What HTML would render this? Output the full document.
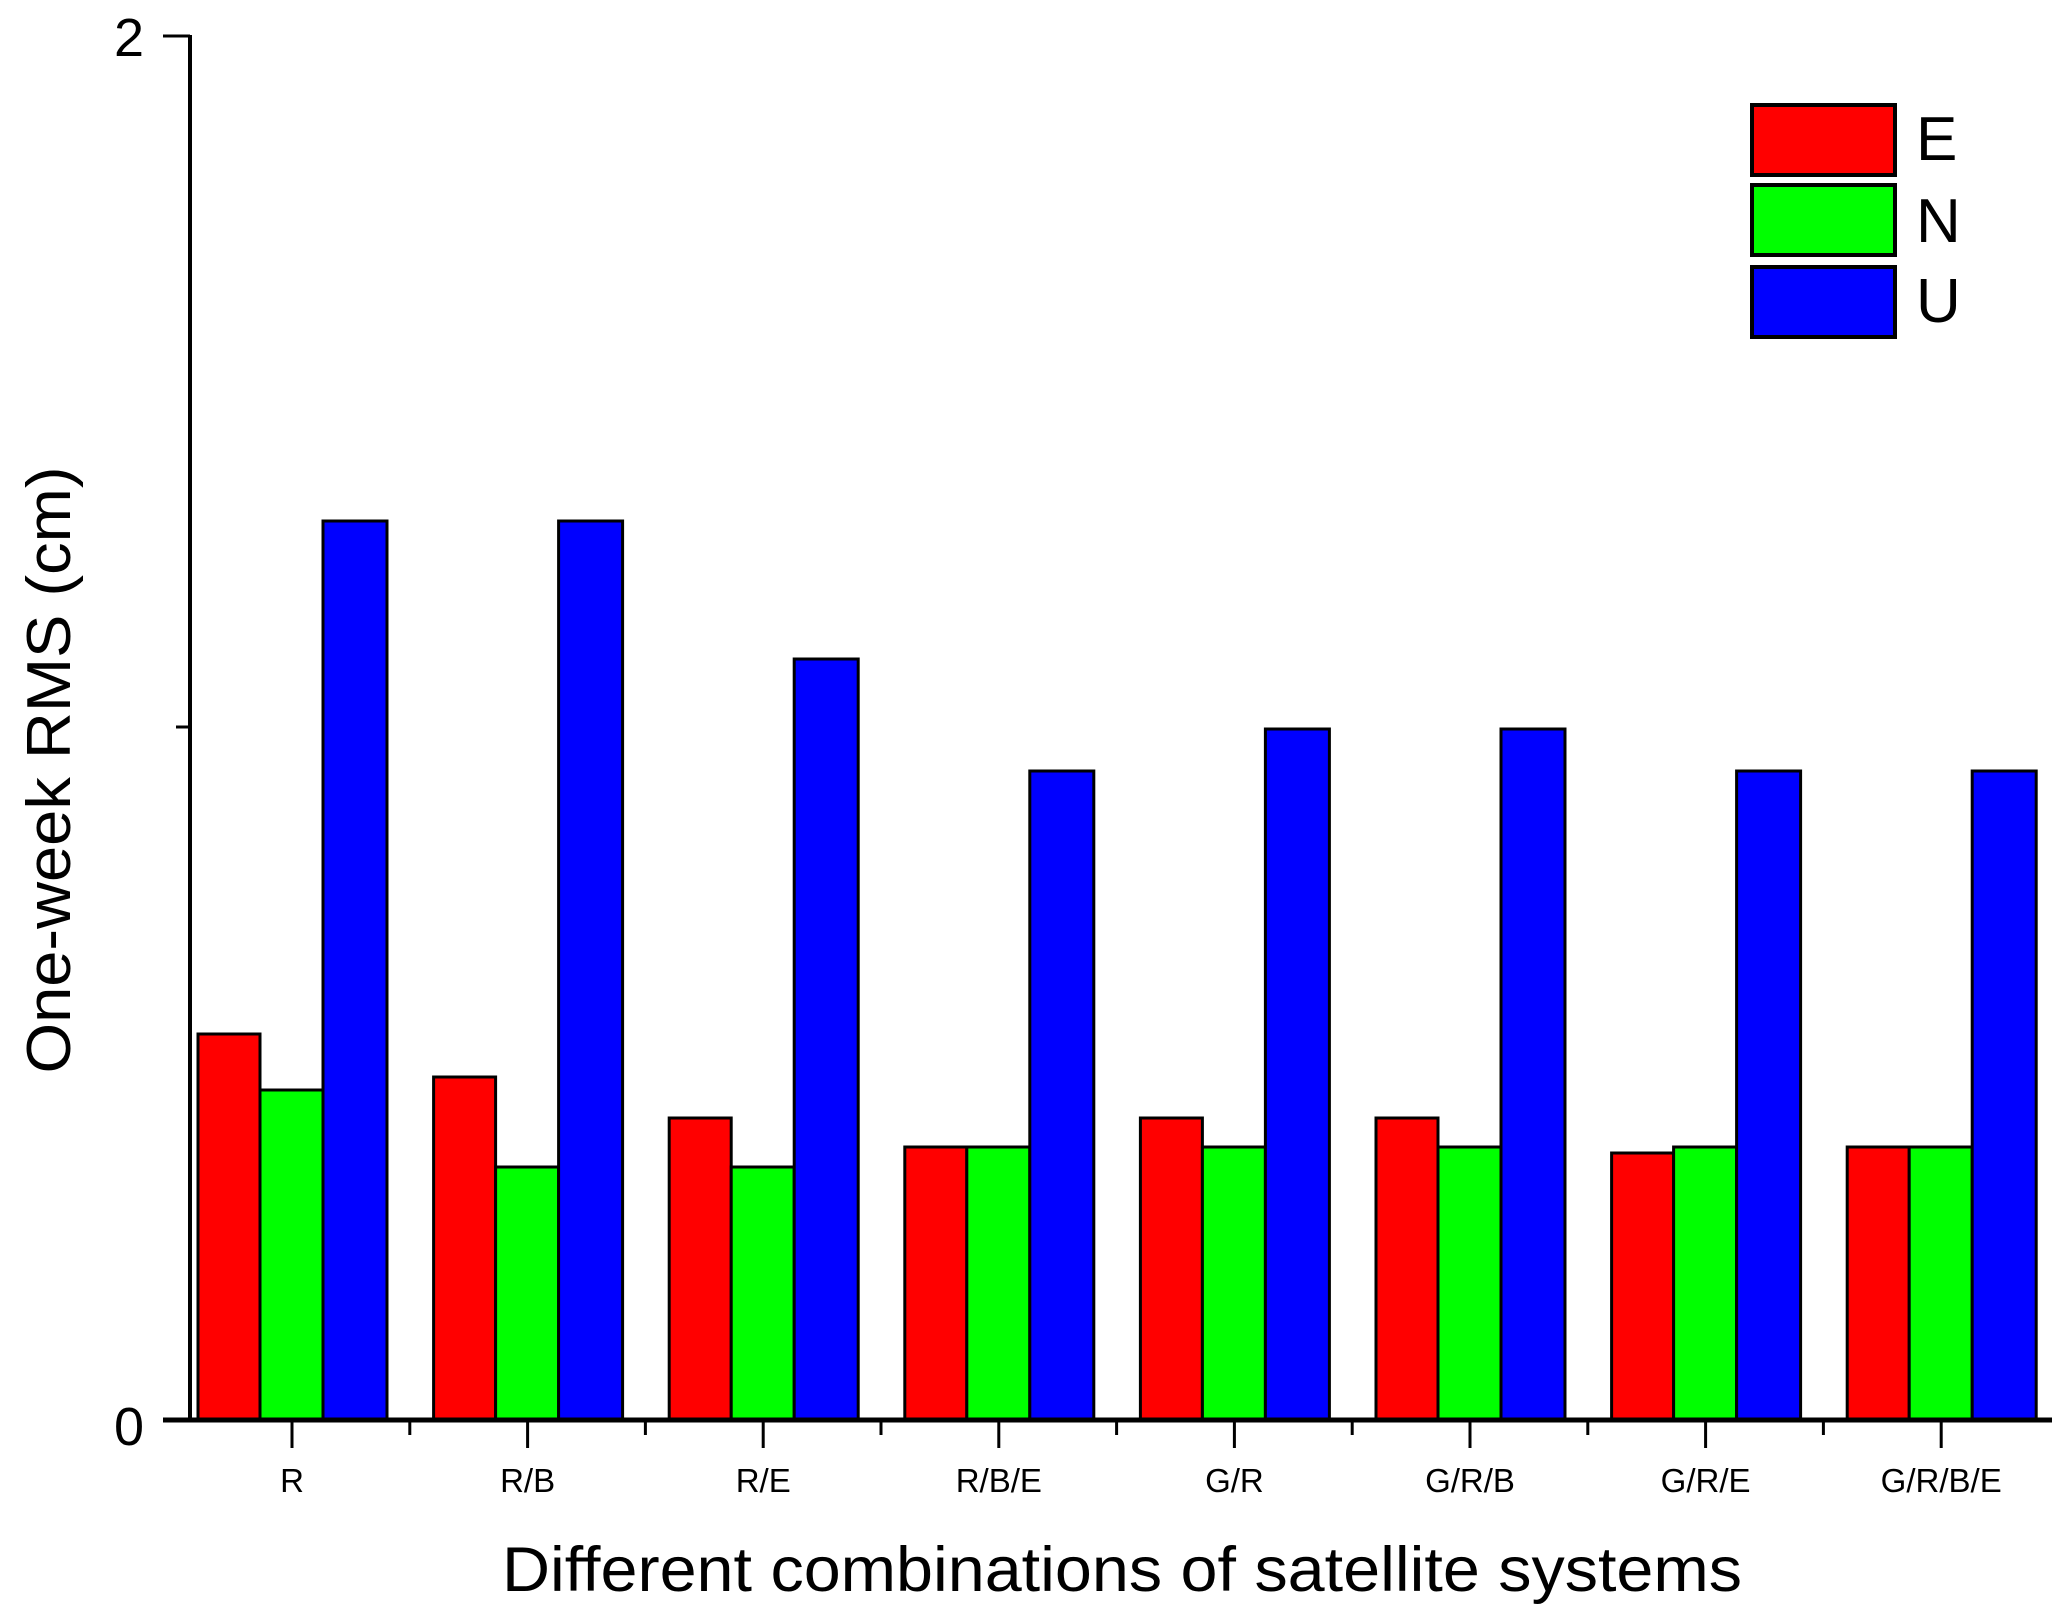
<!DOCTYPE html>
<html><head><meta charset="utf-8"><style>html,body{margin:0;padding:0;background:#fff}svg{display:block}</style></head>
<body>
<svg width="2067" height="1617" viewBox="0 0 2067 1617" xmlns="http://www.w3.org/2000/svg" font-family="'Liberation Sans', Arial, sans-serif">
<rect width="2067" height="1617" fill="#fff"/>
<g stroke="#000" stroke-width="3">
<rect x="198" y="1034" width="62" height="386" fill="#f00"/>
<rect x="260" y="1090" width="63" height="330" fill="#0f0"/>
<rect x="323" y="521" width="64" height="899" fill="#00f"/>
<rect x="433.6" y="1077" width="62" height="343" fill="#f00"/>
<rect x="495.6" y="1167" width="63" height="253" fill="#0f0"/>
<rect x="558.6" y="521" width="64" height="899" fill="#00f"/>
<rect x="669.2" y="1118" width="62" height="302" fill="#f00"/>
<rect x="731.2" y="1167" width="63" height="253" fill="#0f0"/>
<rect x="794.2" y="659" width="64" height="761" fill="#00f"/>
<rect x="904.8" y="1147" width="62" height="273" fill="#f00"/>
<rect x="966.8" y="1147" width="63" height="273" fill="#0f0"/>
<rect x="1029.8" y="771" width="64" height="649" fill="#00f"/>
<rect x="1140.4" y="1118" width="62" height="302" fill="#f00"/>
<rect x="1202.4" y="1147" width="63" height="273" fill="#0f0"/>
<rect x="1265.4" y="729" width="64" height="691" fill="#00f"/>
<rect x="1376" y="1118" width="62" height="302" fill="#f00"/>
<rect x="1438" y="1147" width="63" height="273" fill="#0f0"/>
<rect x="1501" y="729" width="64" height="691" fill="#00f"/>
<rect x="1611.6" y="1153" width="62" height="267" fill="#f00"/>
<rect x="1673.6" y="1147" width="63" height="273" fill="#0f0"/>
<rect x="1736.6" y="771" width="64" height="649" fill="#00f"/>
<rect x="1847.2" y="1147" width="62" height="273" fill="#f00"/>
<rect x="1909.2" y="1147" width="63" height="273" fill="#0f0"/>
<rect x="1972.2" y="771" width="64" height="649" fill="#00f"/>
</g>
<g stroke="#000">
<line x1="190" y1="35" x2="190" y2="1422" stroke-width="4"/>
<line x1="163" y1="1420" x2="2052" y2="1420" stroke-width="5"/>
<line x1="163" y1="36" x2="190" y2="36" stroke-width="3"/>
<line x1="176" y1="727" x2="190" y2="727" stroke-width="3"/>
<g stroke-width="3">
<line x1="292" y1="1420" x2="292" y2="1448"/>
<line x1="527.6" y1="1420" x2="527.6" y2="1448"/>
<line x1="763.2" y1="1420" x2="763.2" y2="1448"/>
<line x1="998.8" y1="1420" x2="998.8" y2="1448"/>
<line x1="1234.4" y1="1420" x2="1234.4" y2="1448"/>
<line x1="1470" y1="1420" x2="1470" y2="1448"/>
<line x1="1705.6" y1="1420" x2="1705.6" y2="1448"/>
<line x1="1941.2" y1="1420" x2="1941.2" y2="1448"/>
<line x1="409.8" y1="1420" x2="409.8" y2="1435"/>
<line x1="645.4" y1="1420" x2="645.4" y2="1435"/>
<line x1="881" y1="1420" x2="881" y2="1435"/>
<line x1="1116.6" y1="1420" x2="1116.6" y2="1435"/>
<line x1="1352.2" y1="1420" x2="1352.2" y2="1435"/>
<line x1="1587.8" y1="1420" x2="1587.8" y2="1435"/>
<line x1="1823.4" y1="1420" x2="1823.4" y2="1435"/>
</g>
</g>
<g font-size="54" text-anchor="end" fill="#000">
<text x="144" y="56">2</text>
<text x="144" y="1445">0</text>
</g>
<g font-size="33" text-anchor="middle" fill="#000">
<text x="292" y="1492">R</text>
<text x="527.6" y="1492">R/B</text>
<text x="763.2" y="1492">R/E</text>
<text x="998.8" y="1492">R/B/E</text>
<text x="1234.4" y="1492">G/R</text>
<text x="1470" y="1492">G/R/B</text>
<text x="1705.6" y="1492">G/R/E</text>
<text x="1941.2" y="1492">G/R/B/E</text>
</g>
<text x="1122" y="1591" font-size="63" text-anchor="middle" textLength="1240" lengthAdjust="spacingAndGlyphs">Different combinations of satellite systems</text>
<text transform="translate(70,770) rotate(-90)" font-size="62" text-anchor="middle" textLength="607" lengthAdjust="spacingAndGlyphs">One-week RMS (cm)</text>
<g stroke="#000" stroke-width="4">
<rect x="1752" y="105" width="143" height="70" fill="#f00"/>
<rect x="1752" y="185" width="143" height="70" fill="#0f0"/>
<rect x="1752" y="267" width="143" height="70" fill="#00f"/>
</g>
<g font-size="62" fill="#000">
<text x="1916" y="160">E</text>
<text x="1916" y="242">N</text>
<text x="1916" y="322">U</text>
</g>
</svg>
</body></html>
